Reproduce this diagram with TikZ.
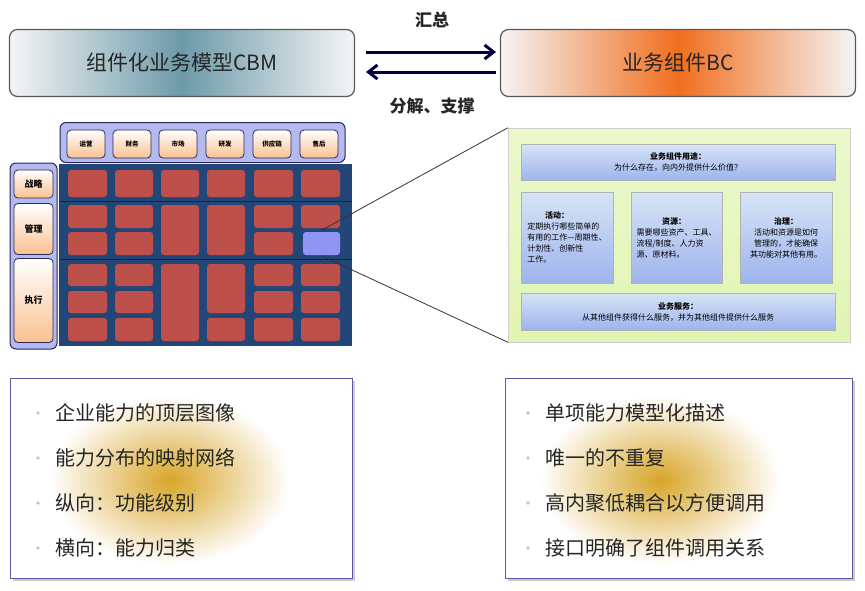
\documentclass[tikz,border=0pt]{standalone}
\usepackage{fontspec}
\setmainfont{Noto Sans CJK SC}
\usetikzlibrary{arrows.meta,calc}
\definecolor{teal1}{RGB}{60,120,140}
\definecolor{org1}{RGB}{240,110,30}
\definecolor{gridbg}{RGB}{35,70,120}
\definecolor{cellred}{RGB}{190,80,75}
\definecolor{lav}{RGB}{180,185,240}
\definecolor{lavbd}{RGB}{40,40,90}
\definecolor{peach}{RGB}{250,200,160}
\definecolor{bluebox}{RGB}{175,200,235}
\definecolor{gold}{RGB}{215,165,40}
\definecolor{lgreen}{RGB}{225,245,180}
\tikzset{
  topbox/.style={draw=gray!70!black, line width=1.2pt, rounded corners=8pt, minimum width=345pt, minimum height=67pt, font=\fontsize{21}{24}\selectfont, text=black!85},
  hdrbtn/.style={draw=lavbd, line width=0.8pt, rounded corners=4pt, top color=white, bottom color=peach!90!orange, font=\fontsize{6.5}{8}\selectfont\bfseries, inner sep=0pt},
  cell/.style={fill=cellred, rounded corners=3pt, draw=none},
  inbox/.style={draw=gray!60, top color=bluebox!50, bottom color=bluebox!90!blue, font=\fontsize{8}{11}\selectfont, align=center, inner sep=2pt},
  bulletbox/.style={draw=gray!70!blue, line width=1pt},
  btxt/.style={anchor=west, font=\fontsize{20}{24}\selectfont, text=black!85},
  bdot/.style={circle, fill=gray!45, inner sep=1.3pt},
  conn/.style={-{Straight Barb[length=9pt,width=14pt]}, line width=3pt, draw=black!75!blue},
  arlbl/.style={font=\fontsize{17}{20}\selectfont\bfseries, text=black!85}
}
\begin{document}
\begin{tikzpicture}[x=1pt,y=-1pt]
\useasboundingbox (0,0) rectangle (865,590);
% top boxes
\node[topbox, left color=gray!8, right color=gray!8, middle color=teal1!75] (cbm) at (182,63) {组件化业务模型CBM};
\node[topbox, left color=gray!8, right color=gray!8, middle color=org1, minimum width=355pt] (bc) at (678,63) {业务组件BC};
\coordinate (r1) at (366,52); \coordinate (r2) at (496,52);
\coordinate (l1) at (496,72); \coordinate (l2) at (366,72);
\draw[conn] (r1) -- (r2);
\draw[conn] (l1) -- (l2);
\node[arlbl] (hz) at (432,20) {汇总};
\node[arlbl] (fj) at (432,106) {分解、支撑};
% column header
\node[draw=lavbd, line width=1pt, fill=lav, rounded corners=6pt, minimum width=285pt, minimum height=40pt] (colh) at (202.5,142.5) {};
\foreach \x/\t [count=\i] in {86/运营,132/财务,178/市场,225/研发,272/供应链,319/售后}
  \node[hdrbtn, minimum width=38pt, minimum height=28pt] (ch\i) at (\x,144) {\t};
% row header
\node[draw=lavbd, line width=1pt, fill=lav, rounded corners=6pt, minimum width=47pt, minimum height=186pt] (rowh) at (33.5,256) {};
\node[hdrbtn, minimum width=39pt, minimum height=28pt, font=\fontsize{9}{11}\selectfont\bfseries] (rh1) at (33.5,184) {战略};
\node[hdrbtn, minimum width=39pt, minimum height=51pt, font=\fontsize{9}{11}\selectfont\bfseries] (rh2) at (33.5,229) {管理};
\node[hdrbtn, minimum width=39pt, minimum height=84pt, font=\fontsize{9}{11}\selectfont\bfseries] (rh3) at (33.5,300.5) {执行};
% grid
\fill[gridbg] (59,164) rectangle (352,346);
\draw[black!50!gridbg, line width=0.8pt] (59,201) -- (352,201) (59,259) -- (352,259);
\foreach \xa/\xb in {68/107,115/153,161/199,207/245,254/293,301/340}{
  \fill[cell] (\xa,170) rectangle (\xb,197);
}
\foreach \xa/\xb in {68/107,115/153,254/293,301/340}{
  \fill[cell] (\xa,205) rectangle (\xb,228);
}
\foreach \xa/\xb in {68/107,115/153,254/293}{
  \fill[cell] (\xa,232) rectangle (\xb,255);
}
\fill[cell] (161,205) rectangle (199,255);
\fill[cell] (207,205) rectangle (245,255);
\fill[fill=lav!80!blue, rounded corners=3pt] (303,232) rectangle (340,255);
\coordinate (bcell1) at (322,230); \coordinate (bcell2) at (322,256);
\foreach \xa/\xb in {68/107,115/153,254/293,301/340}{
  \fill[cell] (\xa,264) rectangle (\xb,286);
  \fill[cell] (\xa,291) rectangle (\xb,313);
  \fill[cell] (\xa,318) rectangle (\xb,341);
}
\fill[cell] (161,264) rectangle (199,341);
\fill[cell] (207,264) rectangle (245,313);
\fill[cell] (207,318) rectangle (245,341);
% right panel
\node[draw=gray!40, top color=lgreen!70, bottom color=lgreen, minimum width=342pt, minimum height=214pt] (panel) at (679,235) {};
\draw[black!80, line width=0.8pt] (bcell1) -- (panel.north west);
\draw[black!80, line width=0.8pt] (bcell2) -- (panel.south west);
\node[inbox, minimum width=314pt, minimum height=36pt] (use) at (678,162) {\textbf{业务组件用途：}\\为什么存在，向内外提供什么价值？};
\node[inbox, minimum width=92pt, minimum height=91pt, align=left] (act) at (567,237.5) {\hspace*{2.2em}\textbf{活动：}\\定期执行哪些简单的\\有用的工作—周期性、\\计划性、创新性\\工作。};
\node[inbox, minimum width=91pt, minimum height=91pt, align=left] (res) at (676.5,237.5) {\hspace*{3.2em}\textbf{资源：}\\需要哪些资产、工具、\\流程/制度、人力资\\源、原材料。};
\node[inbox, minimum width=92pt, minimum height=91pt] (gov) at (786,237.5) {\textbf{治理：}\\活动和资源是如何\\管理的，才能确保\\其功能对其他有用。};
\node[inbox, minimum width=314pt, minimum height=37pt] (svc) at (678,311.5) {\textbf{业务服务：}\\从其他组件获得什么服务，并为其他组件提供什么服务};
% bottom boxes
\fill[gray!40] (13,381) rectangle (355,581);
\fill[gray!40] (508,381) rectangle (855,581);
\begin{scope}
\clip (10,378) rectangle (352,578);
\fill[white] (10,378) rectangle (352,578);
\shade[inner color=gold, outer color=white] (170,480) ellipse (120 and 85);
\end{scope}
\node[bulletbox, minimum width=342pt, minimum height=200pt] (lb) at (181,478) {};
\begin{scope}
\clip (505,378) rectangle (852,578);
\fill[white] (505,378) rectangle (852,578);
\shade[inner color=gold, outer color=white] (660,480) ellipse (120 and 85);
\end{scope}
\node[bulletbox, minimum width=347pt, minimum height=200pt] (rb) at (678.5,478) {};
\foreach \y/\t [count=\i] in {413/企业能力的顶层图像,458/能力分布的映射网络,503/纵向：功能级别,548/横向：能力归类}{
  \node[bdot] (ld\i) at (38,\y) {};
  \node[btxt] (lt\i) at (52,\y) {\t};
}
\foreach \y/\t [count=\i] in {413/单项能力模型化描述,458/唯一的不重复,503/高内聚低耦合以方便调用,548/接口明确了组件调用关系}{
  \node[bdot] (rd\i) at (528,\y) {};
  \node[btxt] (rt\i) at (542,\y) {\t};
}
\end{tikzpicture}
\end{document}
